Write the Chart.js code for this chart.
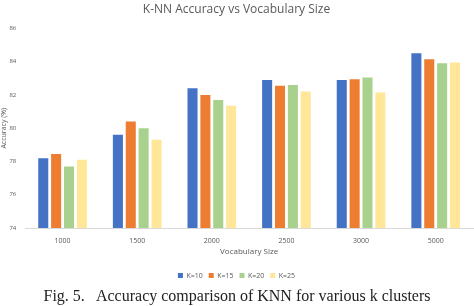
<!DOCTYPE html>
<html>
<head>
<meta charset="utf-8">
<script src="https://cdn.jsdelivr.net/npm/chart.js@4.4.0/dist/chart.umd.min.js"></script>
<style>
  html, body { margin: 0; padding: 0; background: #fff; overflow: hidden; }
  #wrap { position: relative; width: 474px; height: 306px; }
  #chart { position: absolute; left: 0; top: 0; }
  #caption {
    position: absolute; left: 0; top: 287px; width: 474px; text-align: center;
    font-family: "Liberation Serif", "DejaVu Serif", serif; font-size: 16px; color: #222;
    white-space: pre;
  }
</style>
</head>
<body>
<div id="wrap">
  <canvas id="chart" width="474" height="289"></canvas>
  <div id="caption">Fig. 5.   Accuracy comparison of KNN for various k clusters</div>
</div>
<script>
// vocabulary sizes on x axis
const vocabSizes = ['1000', '1500', '2000', '2500', '3000', '5000'];

// accuracy (%) per k value
const k10 = [78.2, 79.6, 82.4, 82.9, 82.9, 84.5];
const k15 = [78.45, 80.4, 82.0, 82.55, 82.95, 84.15];
const k20 = [77.7, 80.0, 81.7, 82.6, 83.05, 83.9];
const k25 = [78.1, 79.3, 81.35, 82.2, 82.15, 83.95];

const seriesLabels = ['K=10', 'K=15', 'K=20', 'K=25'];
const colors = ['#4472C4', '#ED7D31', '#A9D18E', '#FFE699'];

const ctx = document.getElementById('chart').getContext('2d');
new Chart(ctx, {
    type: 'bar',
    data: {
        labels: vocabSizes,
        datasets: [k10, k15, k20, k25].map((d, i) => ({
            label: seriesLabels[i],
            data: d,
            backgroundColor: colors[i],
            categoryPercentage: 0.69,
            barPercentage: 0.78
        }))
    },
    options: {
        responsive: false,
        animation: false,
        layout: { padding: { left: 0, right: 1, top: 1, bottom: 0 } },
        plugins: {
            title: {
                display: true,
                text: 'K-NN Accuracy vs Vocabulary Size',
                color: '#595959',
                font: { family: 'Open Sans', size: 12, weight: 'normal' },
                padding: { top: 1, bottom: 12 }
            },
            legend: {
                position: 'bottom',
                labels: {
                    boxWidth: 5, boxHeight: 5,
                    color: '#595959',
                    font: { family: 'Open Sans', size: 7 },
                    padding: 6
                }
            },
            tooltip: { enabled: false }
        },
        scales: {
            x: {
                grid: { display: false },
                border: { color: '#d9d9d9' },
                ticks: { color: '#595959', font: { family: 'Open Sans', size: 7 }, padding: 1 },
                title: {
                    display: true,
                    text: 'Vocabulary Size',
                    color: '#595959',
                    font: { family: 'Open Sans', size: 8 },
                    padding: { top: 1, bottom: 9 }
                }
            },
            y: {
                min: 74, max: 86,
                grid: { display: false },
                border: { display: false },
                ticks: { stepSize: 2, color: '#595959', font: { family: 'Open Sans', size: 6 }, padding: 1 },
                title: {
                    display: true,
                    text: 'Accuracy (%)',
                    color: '#595959',
                    font: { family: 'Open Sans', size: 7 },
                    padding: 0
                }
            }
        }
    }
});
</script>
</body>
</html>
